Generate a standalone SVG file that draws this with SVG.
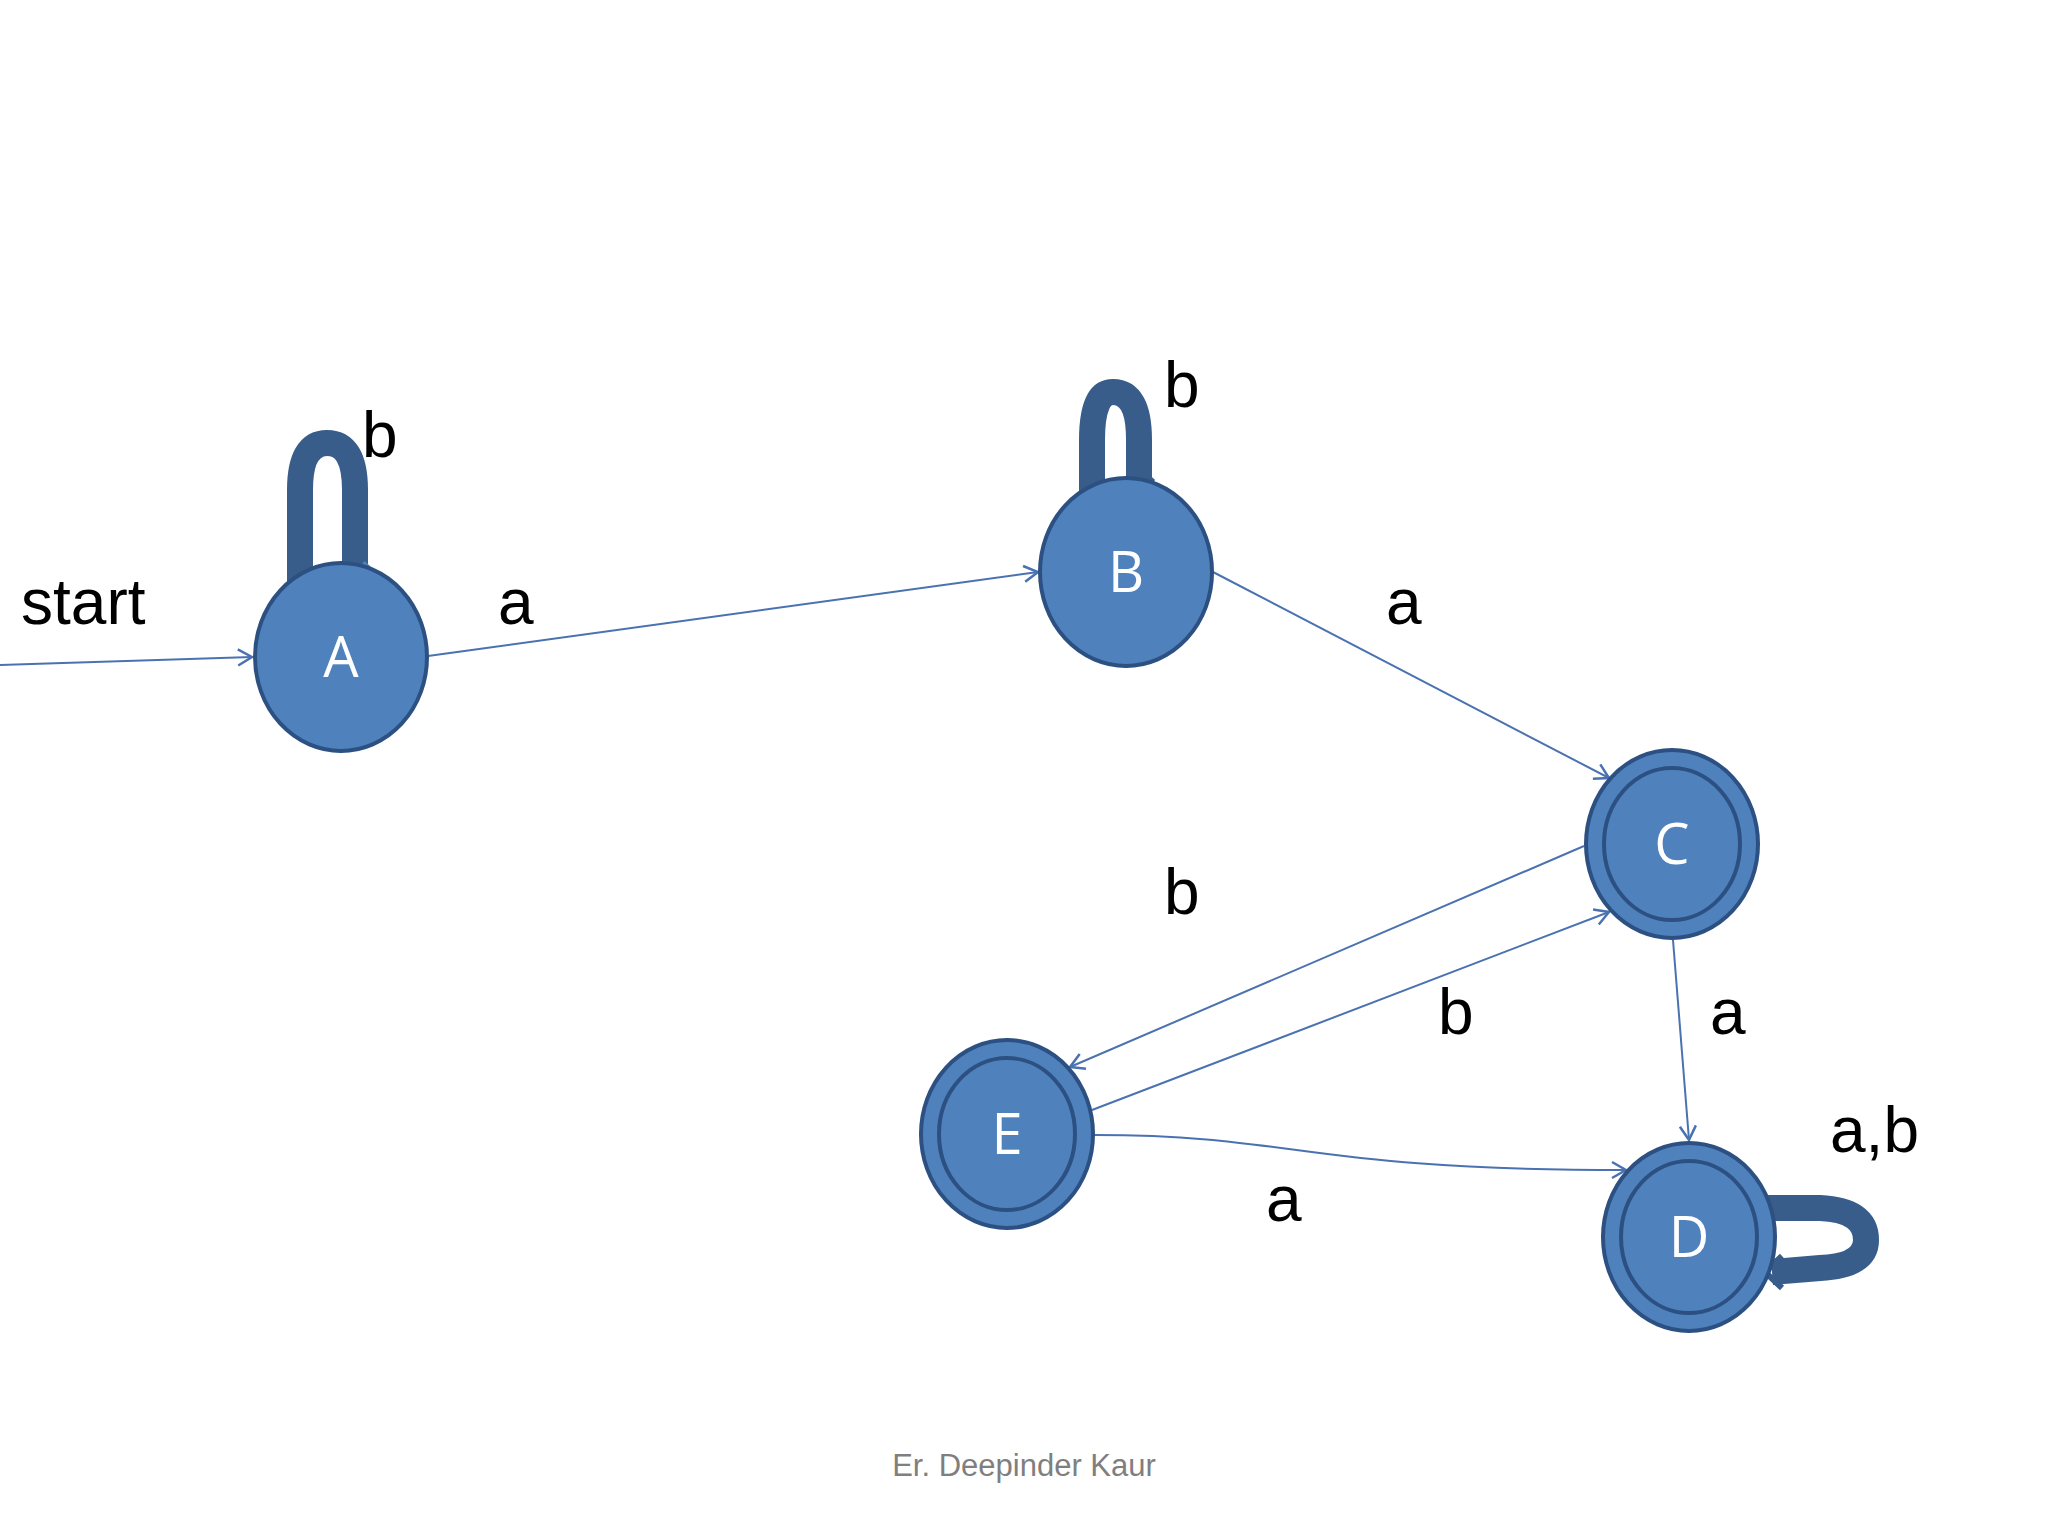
<svg xmlns="http://www.w3.org/2000/svg" width="2048" height="1536" viewBox="0 0 2048 1536">
<style>
.n{fill:#4f81bd;stroke:#2c5082;stroke-width:4}
.r{fill:none;stroke:#2c5082;stroke-width:4}
.nl{font-family:"Open Sans","Liberation Sans",sans-serif;font-size:56px;fill:#fff;text-anchor:middle}
.e{fill:none;stroke:#4a72b0;stroke-width:2;marker-end:url(#ah)}
.lp{fill:none;stroke:#385d8a;stroke-width:26}
.lpi{fill:none;stroke:#4f81bd;stroke-width:12}
.t{font-family:"Liberation Sans",Arial,sans-serif;font-size:64px;fill:#000}
</style>
<defs>
<marker id="ah" markerWidth="20" markerHeight="20" refX="18" refY="10" orient="auto" markerUnits="userSpaceOnUse">
<path d="M4,2 L18,10 L4,18" fill="none" stroke="#4a72b0" stroke-width="2.5"/>
</marker>
</defs>
<rect width="2048" height="1536" fill="#fff"/>
<g id="connectors">
<path class="e" d="M0,665 L252,657"/>
<path class="e" d="M428,656 L1038,572"/>
<path class="e" d="M1213,572 L1609,778"/>
<path class="e" d="M1584,846 L1070,1067"/>
<path class="e" d="M1092,1110 L1609,912"/>
<path class="e" d="M1673,940 L1689,1140"/>
<path class="e" d="M1094,1135 C1300,1135 1300,1170 1626,1170"/>
<g id="loopA"><path class="lp" d="M300,581 L300,490 Q300,443 327,443 Q355,443 355,490 L355,570"/><path class="lpi" d="M341,565 L355,580 L369,565" stroke="#385d8a" stroke-width="6" fill="none"/></g>
<g id="loopB"><path class="lp" d="M1092,496 L1092,440 Q1092,392 1113,392 Q1139,392 1139,440 L1139,488"/><path d="M1125,478 L1139,493 L1153,478" stroke="#385d8a" stroke-width="6" fill="none"/></g>
<g id="loopD"><path class="lp" d="M1757,1208 L1820,1208 Q1866,1210 1866,1240 Q1866,1266 1820,1268 L1772,1272"/><path d="M1782,1256 L1765,1272 L1782,1288" stroke="#385d8a" stroke-width="6" fill="none"/></g>
</g>
<g id="A"><ellipse class="n" cx="341" cy="657" rx="86" ry="94"/><text class="nl" x="341" y="677">A</text></g>
<g id="B"><ellipse class="n" cx="1126" cy="572" rx="86" ry="94"/><text class="nl" x="1126" y="592">B</text></g>
<g id="C"><ellipse class="n" cx="1672" cy="844" rx="86" ry="94"/><ellipse class="r" cx="1672" cy="844" rx="68" ry="76"/><text class="nl" x="1672" y="864">C</text></g>
<g id="E"><ellipse class="n" cx="1007" cy="1134" rx="86" ry="94"/><ellipse class="r" cx="1007" cy="1134" rx="68" ry="76"/><text class="nl" x="1007" y="1154">E</text></g>
<g id="D"><ellipse class="n" cx="1689" cy="1237" rx="86" ry="94"/><ellipse class="r" cx="1689" cy="1237" rx="68" ry="76"/><text class="nl" x="1689" y="1257">D</text></g>
<g id="labels">
<text class="t" x="21" y="624">start</text>
<text class="t" x="498" y="624">a</text>
<text class="t" x="362" y="457">b</text>
<text class="t" x="1164" y="407">b</text>
<text class="t" x="1386" y="624">a</text>
<text class="t" x="1164" y="914">b</text>
<text class="t" x="1438" y="1034">b</text>
<text class="t" x="1710" y="1034">a</text>
<text class="t" x="1830" y="1152">a,b</text>
<text class="t" x="1266" y="1221">a</text>
<text x="1024" y="1476" font-family="Liberation Sans,Arial,sans-serif" font-size="31" fill="#7f7f7f" text-anchor="middle">Er. Deepinder Kaur</text>
</g>
</svg>
